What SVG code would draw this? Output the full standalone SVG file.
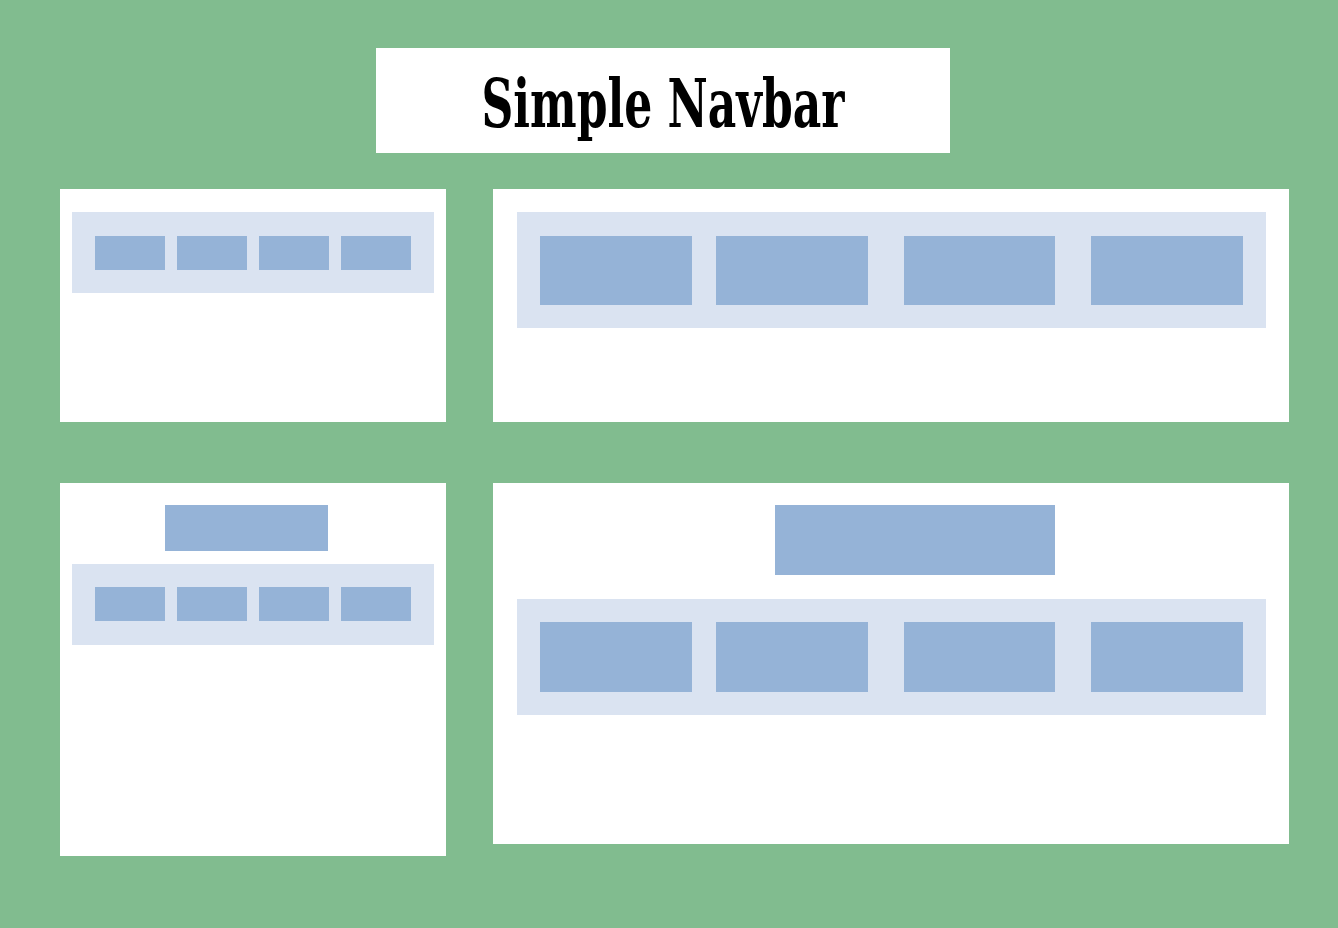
<svg xmlns="http://www.w3.org/2000/svg" width="1338" height="928" viewBox="0 0 1338 928">
<style>
.panel{fill:#FFFFFF}
.bar{fill:#DAE3F1}
.btn{fill:#95B3D7}
.title{font-family:"DejaVu Serif Condensed","Liberation Serif",serif;font-weight:bold;font-size:68px;fill:#000}
</style>
<rect x="0" y="0" width="1338" height="928" fill="#81BC8F"/>
<g id="title">
<rect class="panel" x="376" y="48" width="574" height="105"/>
<text class="title" x="663" y="127" text-anchor="middle" textLength="363" lengthAdjust="spacingAndGlyphs">Simple Navbar</text>
</g>
<g id="panel1">
<rect class="panel" x="60" y="189" width="386" height="233"/>
<rect class="bar" x="72" y="212" width="362" height="81"/>
<rect class="btn" x="95" y="236" width="70" height="34"/>
<rect class="btn" x="177" y="236" width="70" height="34"/>
<rect class="btn" x="259" y="236" width="70" height="34"/>
<rect class="btn" x="341" y="236" width="70" height="34"/>
</g>
<g id="panel2">
<rect class="panel" x="493" y="189" width="796" height="233"/>
<rect class="bar" x="517" y="212" width="749" height="116"/>
<rect class="btn" x="540" y="236" width="152" height="69"/>
<rect class="btn" x="716" y="236" width="152" height="69"/>
<rect class="btn" x="904" y="236" width="151" height="69"/>
<rect class="btn" x="1091" y="236" width="152" height="69"/>
</g>
<g id="panel3">
<rect class="panel" x="60" y="483" width="386" height="373"/>
<rect class="btn" x="165" y="505" width="163" height="46"/>
<rect class="bar" x="72" y="564" width="362" height="81"/>
<rect class="btn" x="95" y="587" width="70" height="34"/>
<rect class="btn" x="177" y="587" width="70" height="34"/>
<rect class="btn" x="259" y="587" width="70" height="34"/>
<rect class="btn" x="341" y="587" width="70" height="34"/>
</g>
<g id="panel4">
<rect class="panel" x="493" y="483" width="796" height="361"/>
<rect class="btn" x="775" y="505" width="280" height="70"/>
<rect class="bar" x="517" y="599" width="749" height="116"/>
<rect class="btn" x="540" y="622" width="152" height="70"/>
<rect class="btn" x="716" y="622" width="152" height="70"/>
<rect class="btn" x="904" y="622" width="151" height="70"/>
<rect class="btn" x="1091" y="622" width="152" height="70"/>
</g>
<g id="connectors"></g>
</svg>
